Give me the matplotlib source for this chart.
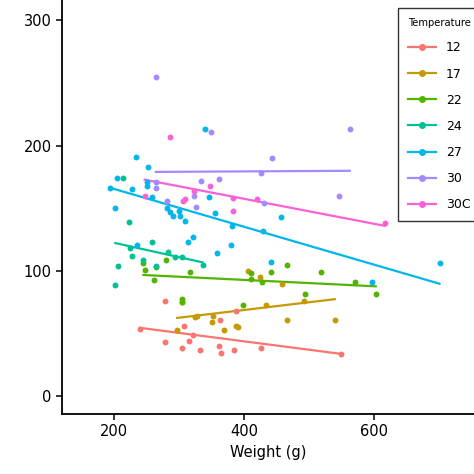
import numpy as np
import matplotlib
matplotlib.use("Agg")
import matplotlib.pyplot as plt
from matplotlib.lines import Line2D

groups = ["12", "17", "22", "24", "27", "30", "30C"]
colors = ["#F8766D", "#C49A00", "#53B400", "#00C094", "#00B6EB", "#A58AFF", "#FB61D7"]

x12 = [240, 278, 307, 278, 304, 315, 321, 332, 362, 361, 364, 384, 387, 425, 549]
y12 = [54, 76, 56, 43, 39, 44, 49, 37, 61, 40, 35, 37, 68, 39, 34]
x17 = [297, 304, 324, 327, 351, 352, 369, 388, 390, 406, 424, 434, 458, 466, 492, 539]
y17 = [53, 75, 63, 64, 59, 64, 53, 56, 55, 100, 95, 73, 90, 61, 76, 61]
x22 = [245, 247, 262, 265, 280, 304, 304, 316, 398, 410, 411, 428, 441, 466, 493, 518, 570, 602]
y22 = [106, 101, 93, 103, 109, 78, 75, 99, 73, 98, 94, 91, 99, 105, 82, 99, 91, 82]
x24 = [202, 206, 225, 228, 244, 258, 264, 283, 293, 305, 336, 214, 223]
y24 = [89, 104, 118, 112, 109, 123, 104, 115, 111, 111, 105, 174, 139]
x27 = [194, 201, 204, 228, 234, 250, 250, 252, 259, 281, 286, 290, 300, 302, 309, 322, 339,
       346, 355, 381, 429, 457, 235, 314, 358, 379, 441, 596, 700]
y27 = [166, 150, 174, 165, 191, 171, 168, 183, 159, 150, 147, 144, 148, 144, 140, 127, 213,
       159, 146, 136, 132, 143, 121, 123, 114, 121, 107, 91, 106]
x30 = [264, 349, 265, 265, 281, 323, 326, 333, 361, 425, 442, 431, 545, 562]
y30 = [255, 211, 171, 166, 156, 160, 151, 172, 173, 178, 190, 154, 160, 213]
x30c = [247, 286, 306, 309, 323, 347, 383, 383, 420, 616]
y30c = [160, 207, 156, 157, 164, 168, 158, 148, 157, 138]

xs = [x12, x17, x22, x24, x27, x30, x30c]
ys = [y12, y17, y22, y24, y27, y30, y30c]

fig = plt.figure(figsize=(4.74, 4.74), dpi=100)
ax = fig.add_axes([62/474, 60/474, 1 - 62/474, 1 - 60/474])
for g, c, x, y in zip(groups, colors, xs, ys):
    x = np.array(x, float); y = np.array(y, float)
    ax.scatter(x, y, s=18, color=c, zorder=3, linewidths=0)
    b, a = np.polyfit(x, y, 1)
    xx = np.array([x.min(), x.max()])
    ax.plot(xx, a + b * xx, color=c, lw=1.6, zorder=2)

ax.set_xlim(120, 753)
ax.set_ylim(-14, 316)
ax.set_xticks([200, 400, 600])
ax.set_yticks([0, 100, 200, 300])
for s in ["top", "right"]:
    ax.spines[s].set_visible(False)
for s in ["left", "bottom"]:
    ax.spines[s].set_linewidth(1.3)
ax.tick_params(labelsize=10.5, width=1.1, length=4, colors="black")
ax.set_xlabel("Weight (g)", fontsize=10.5)

handles = [Line2D([0], [0], color=c, lw=1.6, marker="o", markersize=4) for c in colors]
leg = fig.legend(handles, groups, title="Temperature", loc="upper left",
                 bbox_to_anchor=(392/474, 1 - 2/474), fontsize=9, title_fontsize=7.2,
                 frameon=True, fancybox=False, edgecolor="black", handlelength=2.2,
                 labelspacing=1.05, borderpad=0.8)
leg.get_frame().set_linewidth(1.0)
leg._legend_box.align = "left"
fig.savefig("out.png", dpi=100)
